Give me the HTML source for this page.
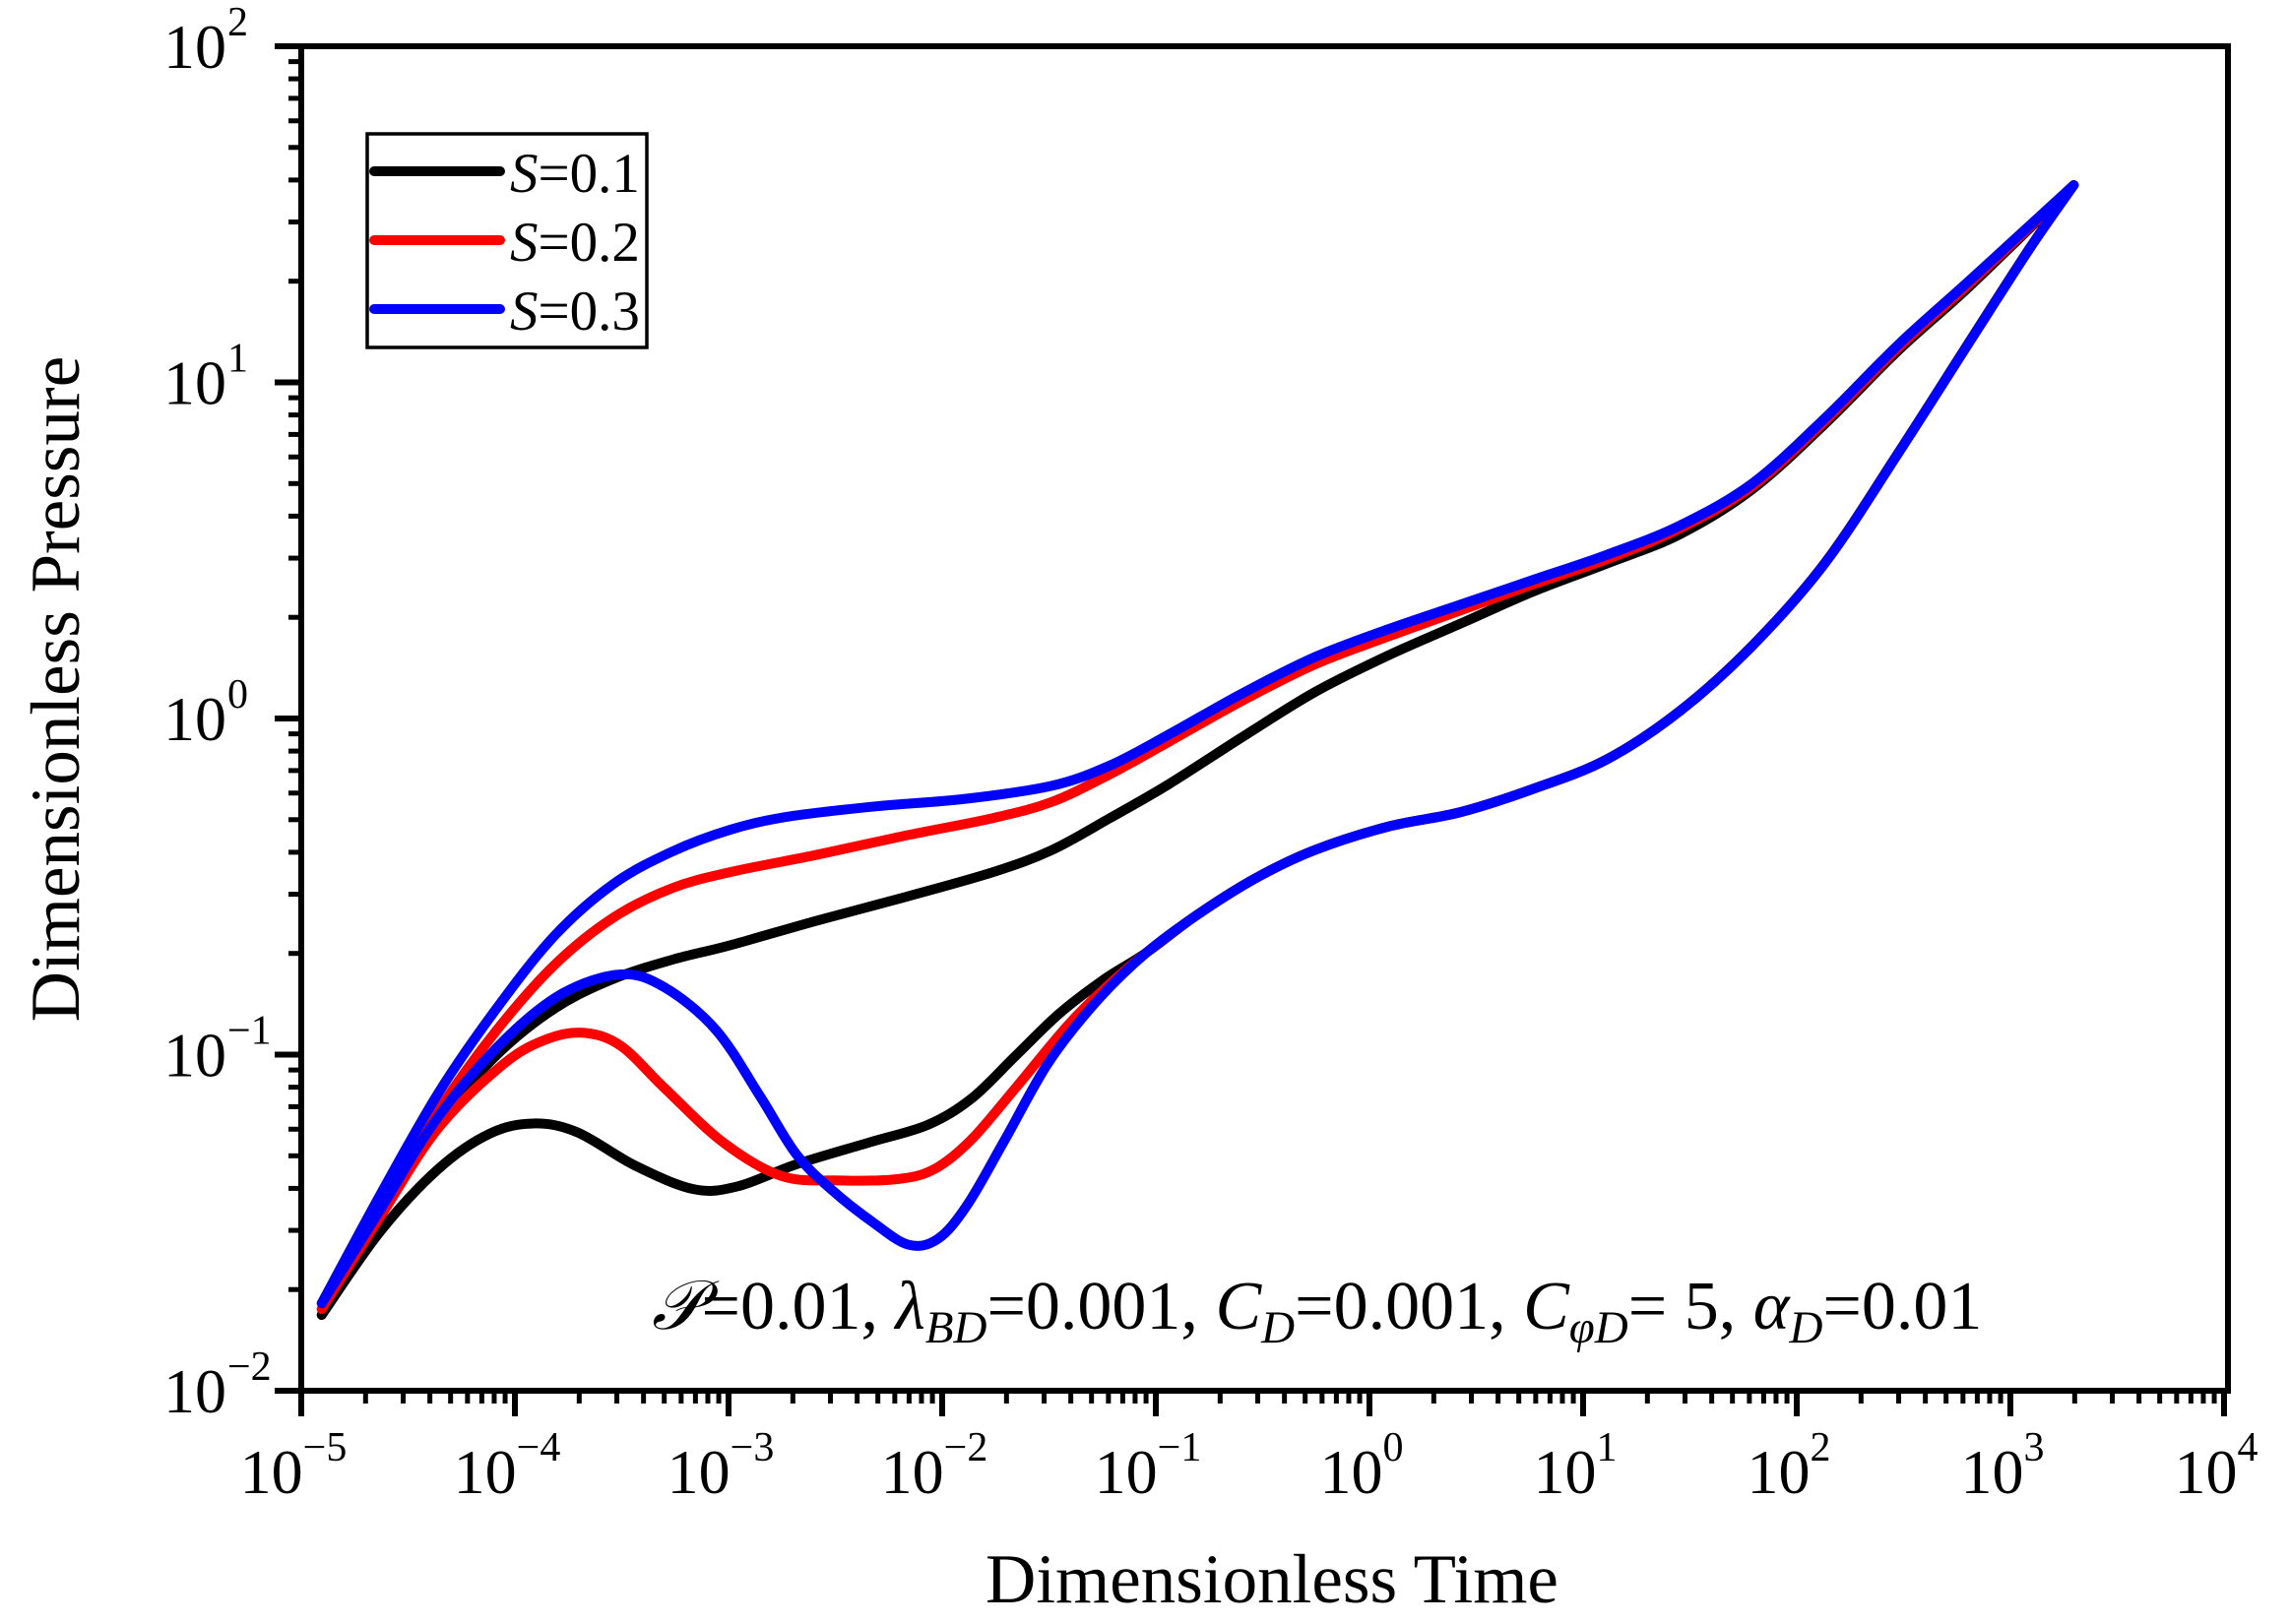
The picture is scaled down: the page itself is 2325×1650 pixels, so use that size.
<!DOCTYPE html>
<html><head><meta charset="utf-8"><style>
html,body{margin:0;padding:0;background:#fff}
svg{display:block}
text{font-family:"Liberation Serif",serif;fill:#000}
</style></head><body>
<svg id="s" width="2325" height="1650" xmlns="http://www.w3.org/2000/svg">
<rect width="2325" height="1650" fill="#fff"/>
<g id="curves"></g>
<g id="axes"></g>
<rect x="306" y="47" width="1957" height="1366" fill="none" stroke="#000" stroke-width="6"/>
<rect x="373" y="136" width="284" height="217" fill="#fff" stroke="#000" stroke-width="3.5"/>
<line x1="380" y1="174" x2="508" y2="174" stroke="#000" stroke-width="10" stroke-linecap="round"/>
<line x1="380" y1="244" x2="508" y2="244" stroke="#f00" stroke-width="10" stroke-linecap="round"/>
<line x1="380" y1="314" x2="508" y2="314" stroke="#00f" stroke-width="10" stroke-linecap="round"/>
<text x="518" y="195" font-size="57"><tspan font-style="italic">S</tspan>=0.1</text>
<text x="518" y="265" font-size="57"><tspan font-style="italic">S</tspan>=0.2</text>
<text x="518" y="335" font-size="57"><tspan font-style="italic">S</tspan>=0.3</text>
<text x="662" y="1350" font-size="70"><tspan font-style="italic">𝒫</tspan>=0.01, <tspan font-style="italic">λ</tspan><tspan font-style="italic" font-size="47" dy="14">BD</tspan><tspan dy="-14">=0.001, </tspan><tspan font-style="italic">C</tspan><tspan font-style="italic" font-size="47" dy="14">D</tspan><tspan dy="-14">=0.001, </tspan><tspan font-style="italic">C</tspan><tspan font-style="italic" font-size="47" dy="14">φD</tspan><tspan dy="-14">= 5, </tspan><tspan font-style="italic">α</tspan><tspan font-style="italic" font-size="47" dy="14">D</tspan><tspan dy="-14">=0.01</tspan></text>
<text x="1292" y="1628" font-size="71" text-anchor="middle">Dimensionless Time</text>
<text transform="translate(80,700) rotate(-90)" font-size="71" text-anchor="middle">Dimensionless Pressure</text>
</svg>
<script>
var NS="http://www.w3.org/2000/svg";
function el(p,t,a,txt){var e=document.createElementNS(NS,t);for(var k in a)e.setAttribute(k,a[k]);if(txt!==undefined)e.textContent=txt;p.appendChild(e);return e;}
var ax=document.getElementById("axes");
var L=306,B=1413,T=47,R=2263,DX=217,DY=341.5;
for(var d=-5;d<=4;d++){var x=L+(d+5)*DX;
 el(ax,"line",{x1:x,y1:B,x2:x,y2:B+26,stroke:"#000","stroke-width":6});
 var t=el(ax,"text",{x:x-8,y:B+104,"font-size":64,"text-anchor":"middle"});
 el(t,"tspan",{},"10");el(t,"tspan",{"font-size":42,dy:-33},d<0?"−"+(-d):""+d);
 if(d<4)for(var m=2;m<=9;m++){var xm=x+Math.log10(m)*DX;el(ax,"line",{x1:xm,y1:B,x2:xm,y2:B+13,stroke:"#000","stroke-width":5});}
}
for(var e=-2;e<=2;e++){var y=B-(e+2)*DY;
 el(ax,"line",{x1:L,y1:y,x2:L-27,y2:y,stroke:"#000","stroke-width":6});
 el(ax,"text",{x:230,y:y+22,"font-size":64,"text-anchor":"end"},"10");
 el(ax,"text",{x:231,y:y-11,"font-size":42},e<0?"−"+(-e):""+e);
 if(e<2)for(var m=2;m<=9;m++){var ym=y-Math.log10(m)*DY;el(ax,"line",{x1:L,y1:ym,x2:L-13,y2:ym,stroke:"#000","stroke-width":5});}
}
function tr(p){return [306+(p[0]-206)*1.483,47+(p[1]-32)*1.485];}
function path(pts){pts=pts.map(tr);var d="M"+pts[0][0]+","+pts[0][1];
 for(var i=0;i<pts.length-1;i++){var p0=pts[i-1]||pts[i],p1=pts[i],p2=pts[i+1],p3=pts[i+2]||p2;
  d+=" C"+(p1[0]+(p2[0]-p0[0])/6)+","+(p1[1]+(p2[1]-p0[1])/6)+" "+(p2[0]-(p3[0]-p1[0])/6)+","+(p2[1]-(p3[1]-p1[1])/6)+" "+p2[0]+","+p2[1];}
 return d;}
var tail=[[785,652],[820,626],[860,601],[900,582],[950,566],[1000,556],[1050,540],[1100,520],[1150,487],[1200,442],[1250,385],[1300,310],[1350,232],[1390,170],[1420,127]];
var S={
"#000":[
[[220,900],[260,830],[300,768],[340,722],[380,690],[420,670],[460,657],[500,647],[560,630],[620,614],[680,597],[720,582],[760,560],[800,537],[850,505],[900,474],[950,449],[1000,427],[1050,405],[1100,386],[1150,366],[1200,335],[1250,290],[1300,240],[1350,195],[1420,127]],
[[220,900],[260,843],[300,800],[335,776],[365,769],[395,775],[435,798],[475,814],[505,812],[545,797],[595,782],[635,770],[665,752],[695,723],[725,694],[755,671]].concat(tail)],
"#f00":[
[[220,896],[260,825],[300,760],[340,705],[380,660],[420,628],[460,608],[500,597],[560,585],[620,572],[680,560],[720,549],[760,530],[800,508],[850,480],[900,455],[950,436],[1000,418],[1050,400],[1100,383],[1150,362],[1200,333],[1250,288],[1300,238],[1350,193],[1420,127]],
[[220,896],[260,833],[300,772],[345,728],[375,711],[400,707],[425,716],[455,745],[495,782],[535,805],[575,808],[615,807],[640,800],[665,780],[695,745],[730,703],[757,676]].concat(tail)],
"#00f":[
[[220,892],[260,818],[300,748],[340,690],[380,640],[420,605],[460,583],[500,568],[540,559],[600,552],[660,547],[720,538],[760,524],[800,503],[850,475],[900,450],[950,431],[1000,414],[1050,397],[1100,380],[1150,360],[1200,331],[1250,286],[1300,236],[1350,191],[1420,127]],
[[220,892],[260,828],[300,764],[345,712],[385,680],[425,667],[455,676],[490,705],[520,750],[545,790],[570,815],[598,837],[622,852],[642,848],[662,825],[688,780],[718,727],[752,684]].concat(tail)]
};
var cg=document.getElementById("curves");
for(var c in S)S[c].forEach(function(p){el(cg,"path",{d:path(p),fill:"none",stroke:c,"stroke-width":10,"stroke-linecap":"round","stroke-linejoin":"round"});});
</script>
</body></html>
